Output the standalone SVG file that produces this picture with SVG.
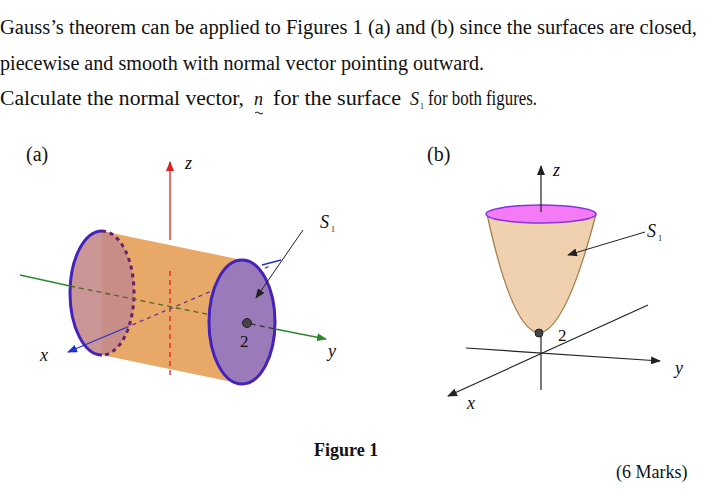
<svg xmlns="http://www.w3.org/2000/svg" width="718" height="496" viewBox="0 0 718 496">
<style>
text{font-family:"Liberation Serif",serif;fill:#111}
.t{font-size:20px}
.i{font-style:italic;font-size:18px}
.ax{stroke-width:1.3;fill:none}
</style>
<defs>
<marker id="ab" markerWidth="10" markerHeight="8" refX="9" refY="4" orient="auto" markerUnits="userSpaceOnUse"><path d="M0,0L10,4L0,8z" fill="#222"/></marker>
<marker id="ar" markerWidth="10" markerHeight="8" refX="9" refY="4" orient="auto" markerUnits="userSpaceOnUse"><path d="M0,0L10,4L0,8z" fill="#d22"/></marker>
<marker id="ag" markerWidth="10" markerHeight="8" refX="9" refY="4" orient="auto" markerUnits="userSpaceOnUse"><path d="M0,0L10,4L0,8z" fill="#2a8a2a"/></marker>
<marker id="abl" markerWidth="10" markerHeight="8" refX="9" refY="4" orient="auto" markerUnits="userSpaceOnUse"><path d="M0,0L10,4L0,8z" fill="#2233cc"/></marker>
</defs>
<rect width="718" height="496" fill="#fff"/>
<text class="t" x="0" y="34" textLength="697" lengthAdjust="spacingAndGlyphs">Gauss’s theorem can be applied to Figures 1 (a) and (b) since the surfaces are closed,</text>
<text class="t" x="0" y="70" textLength="484" lengthAdjust="spacingAndGlyphs">piecewise and smooth with normal vector pointing outward.</text>
<text class="t" x="0" y="105" textLength="244" lengthAdjust="spacingAndGlyphs">Calculate the normal vector,</text>
<text class="i" x="254" y="105">n</text>
<path d="M255,113 q2,-2 4,0 t4,0" fill="none" stroke="#111" stroke-width="1"/>
<text class="t" x="273" y="105" textLength="128" lengthAdjust="spacingAndGlyphs">for the surface</text>
<text class="i" x="410" y="105">S</text><text x="420" y="109" style="font-size:8px">1</text>
<text class="t" x="428" y="105" textLength="109" lengthAdjust="spacingAndGlyphs">for both figures.</text>

<g id="fig-a">
<text class="t" x="26" y="161">(a)</text>
<path d="M102,231 L242,260 L242,384 L102,355 Z" fill="#e8a868"/>
<ellipse cx="102" cy="293" rx="32" ry="62" fill="#c48a8a" opacity="0.9"/>
<path d="M102,231 A32,62 0 0 0 102,355" fill="none" stroke="#4422bb" stroke-width="3"/>
<path d="M102,231 A32,62 0 0 1 102,355" fill="none" stroke="#662266" stroke-width="3" stroke-dasharray="4,4"/>
<g class="ax">
<line x1="20" y1="275" x2="70" y2="286" stroke="#2a8a2a"/>
<line x1="70" y1="286" x2="245" y2="322" stroke="#556622" stroke-dasharray="5,4"/>
<line x1="170" y1="375" x2="170" y2="270" stroke="#d22" stroke-dasharray="5,4"/>
<line x1="170" y1="240" x2="170" y2="162" stroke="#d22" marker-end="url(#ar)"/>
<line x1="125" y1="328" x2="270" y2="266" stroke="#663399" stroke-dasharray="4,4"/>
<line x1="125" y1="328" x2="68" y2="352" stroke="#2233cc" marker-end="url(#abl)"/>
</g>
<ellipse cx="242" cy="322" rx="33" ry="62" fill="#9a7ab8" stroke="#4422bb" stroke-width="3"/>
<line x1="262" y1="265" x2="281" y2="260" stroke="#2233cc" stroke-width="1.3"/>
<line x1="242" y1="322" x2="275" y2="329" stroke="#333" stroke-width="1.3" stroke-dasharray="5,4"/>
<line x1="275" y1="329" x2="326" y2="339" stroke="#2a8a2a" stroke-width="1.3" marker-end="url(#ag)"/>
<circle cx="247" cy="323" r="4.5" fill="#444" stroke="#222"/>
<text x="240" y="347" style="font-size:17px">2</text>
<line x1="303" y1="230" x2="256" y2="298" stroke="#222" stroke-width="1" marker-end="url(#ab)"/>
<text class="i" x="185" y="169">z</text>
<text class="i" x="40" y="361">x</text>
<text class="i" x="328" y="357">y</text>
<text class="i" x="320" y="228">S</text><text x="331" y="232" style="font-size:8px">1</text>
</g>

<g id="fig-b">
<text class="t" x="427" y="161">(b)</text>
<path d="M487,214 Q512,330 539,333 Q566,330 596,214 Z" fill="#efd1b0" stroke="#a07848" stroke-width="1.2"/>
<ellipse cx="541" cy="214" rx="55" ry="9" fill="#f57af5" stroke="#8833dd" stroke-width="1.5"/>
<line x1="541" y1="212" x2="541" y2="166" stroke="#222" stroke-width="1.2" marker-end="url(#ab)"/>
<line x1="541" y1="333" x2="541" y2="390" stroke="#222" stroke-width="1.2"/>
<line x1="466" y1="348" x2="660" y2="361" stroke="#222" stroke-width="1.2" marker-end="url(#ab)"/>
<line x1="648" y1="305" x2="448" y2="396" stroke="#222" stroke-width="1.2" marker-end="url(#ab)"/>
<circle cx="539" cy="333" r="4" fill="#444" stroke="#222"/>
<text x="558" y="341" style="font-size:17px">2</text>
<line x1="645" y1="232" x2="568" y2="255" stroke="#222" stroke-width="1" marker-end="url(#ab)"/>
<text class="i" x="553" y="176">z</text>
<text class="i" x="675" y="374">y</text>
<text class="i" x="467" y="409">x</text>
<text class="i" x="647" y="237">S</text><text x="658" y="241" style="font-size:8px">1</text>
</g>
<text x="314" y="456" style="font-size:18px;font-weight:bold">Figure 1</text>
<text class="t" x="616" y="478" style="font-size:18px">(6 Marks)</text>
</svg>
